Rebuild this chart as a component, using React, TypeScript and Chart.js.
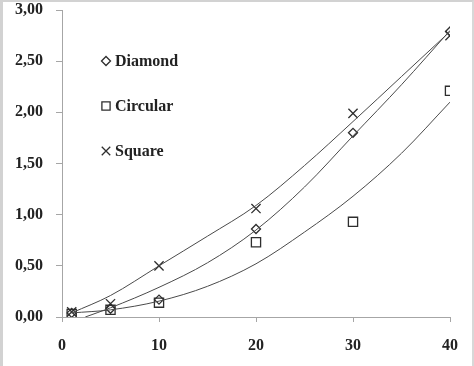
import React, { useEffect, useRef } from 'react';
import { Chart, registerables } from 'chart.js';
import { drawPoint } from 'chart.js/helpers';

Chart.register(...registerables);

// Measured data
const xValues = [1, 5, 10, 20, 30, 40];
const diamondValues = [0.04, 0.08, 0.17, 0.86, 1.8, 2.79];
const circularValues = [0.03, 0.07, 0.14, 0.73, 0.93, 2.21];
const squareValues = [0.05, 0.13, 0.5, 1.06, 1.99, 2.75];

// Trend lines
const trendX = [1, 5, 10, 15, 20, 25, 30, 35, 40];
const diamondTrendX = [2.4, 5, 10, 15, 20, 25, 30, 35, 40];
const diamondTrend = [0, 0.09, 0.29, 0.53, 0.85, 1.27, 1.77, 2.27, 2.8];
const circularTrend = [0.04, 0.07, 0.155, 0.3, 0.52, 0.83, 1.18, 1.6, 2.1];
const squareTrend = [0.04, 0.21, 0.5, 0.79, 1.09, 1.48, 1.91, 2.35, 2.79];

const seriesNames = ['Diamond', 'Circular', 'Square'];
const xTicks = [0, 10, 20, 30, 40];
const yTicks = [0, 0.5, 1, 1.5, 2, 2.5, 3];

const markerStyles = ['rectRot', 'rect', 'crossRot'];
const markerRadii = [4.5, 6.5, 6.5];
const legendRadii = [4.5, 5.8, 6];
const markerColor = '#2e2e2e';
const lineColor = '#4a4a4a';
const axisColor = '#a6a6a6';
const textColor = '#222222';
const fontFamily = '"Liberation Serif", "Times New Roman", serif';

const toPoints = (xs: number[], ys: number[]) => xs.map((x, i) => ({ x, y: ys[i] }));

const legendPlugin = {
  id: 'insideLegend',
  afterDatasetsDraw(chart: any) {
    const { ctx, chartArea } = chart;
    ctx.save();
    seriesNames.forEach((name, i) => {
      const cx = chartArea.left + 44;
      const cy = chartArea.top + 51 + i * 45;
      ctx.strokeStyle = markerColor;
      ctx.fillStyle = 'rgba(0,0,0,0)';
      ctx.lineWidth = 1.3;
      drawPoint(ctx, { pointStyle: markerStyles[i], radius: legendRadii[i], rotation: 0, borderWidth: 1.3 } as any, cx, cy);
      ctx.fillStyle = textColor;
      ctx.font = `bold 16px ${fontFamily}`;
      ctx.textBaseline = 'middle';
      ctx.textAlign = 'left';
      ctx.fillText(name, cx + 9, cy + 1);
    });
    ctx.restore();
  },
};

export default function App() {
  const canvasRef = useRef<HTMLCanvasElement | null>(null);

  useEffect(() => {
    if (!canvasRef.current) return;
    const seriesValues = [diamondValues, circularValues, squareValues];
    const trendSets = [
      toPoints(diamondTrendX, diamondTrend),
      toPoints(trendX, circularTrend),
      toPoints(trendX, squareTrend),
    ];
    const datasets: any[] = [];
    trendSets.forEach((pts, i) => {
      datasets.push({
        label: seriesNames[i] + ' trend',
        data: pts,
        showLine: true,
        borderColor: lineColor,
        borderWidth: 1,
        pointRadius: 0,
        cubicInterpolationMode: 'monotone',
        fill: false,
      });
    });
    seriesValues.forEach((vals, i) => {
      datasets.push({
        label: seriesNames[i],
        data: toPoints(xValues, vals),
        showLine: false,
        pointStyle: markerStyles[i],
        pointRadius: markerRadii[i],
        pointBorderColor: markerColor,
        pointBackgroundColor: 'rgba(0,0,0,0)',
        pointBorderWidth: 1.3,
      });
    });

    const tickFont = { family: fontFamily, size: 16, weight: 'bold' as const };

    const chart = new Chart(canvasRef.current, {
      type: 'scatter',
      data: { datasets },
      plugins: [legendPlugin],
      options: {
        animation: false,
        responsive: false,
        maintainAspectRatio: false,
        layout: { padding: { top: 10, right: 24, left: 0, bottom: 0 } },
        plugins: { legend: { display: false }, tooltip: { enabled: false } },
        scales: {
          x: {
            type: 'linear',
            min: 0,
            max: 40,
            afterBuildTicks: (s: any) => {
              s.ticks = xTicks.map((v) => ({ value: v }));
            },
            afterFit: (s: any) => {
              s.height = 49;
              s.paddingLeft = 0;
              s.paddingRight = 0;
            },
            ticks: {
              font: tickFont,
              color: textColor,
              padding: 14,
              callback: (v: any) => String(v),
            },
            grid: { drawOnChartArea: false, drawTicks: true, tickLength: 5, color: axisColor },
            border: { display: true, color: axisColor },
          },
          y: {
            type: 'linear',
            min: 0,
            max: 3,
            afterBuildTicks: (s: any) => {
              s.ticks = yTicks.map((v) => ({ value: v }));
            },
            afterFit: (s: any) => {
              s.width = 62;
              s.paddingTop = 0;
              s.paddingBottom = 0;
            },
            ticks: {
              font: tickFont,
              color: textColor,
              padding: 13,
              callback: (v: any) => Number(v).toFixed(2).replace('.', ','),
            },
            grid: { drawOnChartArea: false, drawTicks: true, tickLength: 6, color: axisColor },
            border: { display: true, color: axisColor },
          },
        },
      },
    });
    return () => chart.destroy();
  }, []);

  return (
    <div style={{ position: 'fixed', left: 0, top: 0, width: 474, height: 366, background: '#ffffff' }}>
      <canvas ref={canvasRef} width={474} height={366} style={{ display: 'block', width: 474, height: 366 }} />
      <div
        style={{
          position: 'absolute',
          left: 0,
          top: 0,
          width: 474,
          height: 366,
          boxSizing: 'border-box',
          borderLeft: '3px solid #d2d2d2',
          borderTop: '2px solid #d2d2d2',
          borderRight: '2px solid #d8d8d8',
          pointerEvents: 'none',
        }}
      />
    </div>
  );
}
